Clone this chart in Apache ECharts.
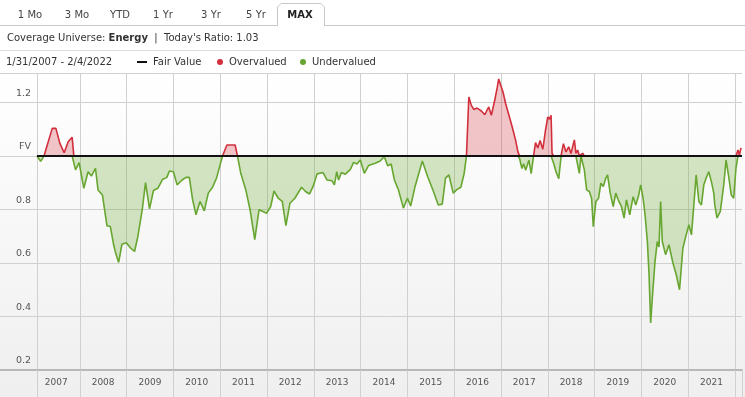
<!DOCTYPE html>
<html>
<head>
<meta charset="utf-8">
<style>
  html, body { margin: 0; padding: 0; background: #fff; }
  #chart { width: 745px; height: 397px; }
</style>
<script src="https://cdn.jsdelivr.net/npm/echarts@6/dist/echarts.min.js"></script>
</head>
<body>
<div id="chart"></div>
<script>
const tabs = ["1 Mo", "3 Mo", "YTD", "1 Yr", "3 Yr", "5 Yr", "MAX"];
const activeTab = "MAX";
const universe = "Energy";
const todaysRatio = "1.03";
const dateRange = "1/31/2007 - 2/4/2022";
const legendNames = ["Fair Value", "Overvalued", "Undervalued"];
const yearLabels = ["2007", "2008", "2009", "2010", "2011", "2012", "2013", "2014",
                    "2015", "2016", "2017", "2018", "2019", "2020", "2021"];
const fairValue = 1;
const xStart = 2007.085;   // 1/31/2007, as a year fraction
const xEnd = 2022.15;

// dates as year fractions, price/fair value ratio
const timeline = [
  2007.085, 2007.164, 2007.234, 2007.411, 2007.489, 2007.574, 2007.666, 2007.751, 2007.836, 2007.872,
  2007.909, 2007.985, 2008.085, 2008.177, 2008.249, 2008.334, 2008.389, 2008.483, 2008.581, 2008.653,
  2008.723, 2008.766, 2008.830, 2008.900, 2008.994, 2009.085, 2009.170, 2009.240, 2009.334, 2009.404,
  2009.489, 2009.574, 2009.666, 2009.772, 2009.857, 2009.915, 2010.000, 2010.079, 2010.185, 2010.270,
  2010.340, 2010.411, 2010.483, 2010.568, 2010.660, 2010.745, 2010.836, 2010.921, 2011.049, 2011.143,
  2011.319, 2011.368, 2011.440, 2011.547, 2011.638, 2011.738, 2011.830, 2011.994, 2012.079, 2012.149,
  2012.240, 2012.326, 2012.404, 2012.489, 2012.596, 2012.738, 2012.823, 2012.909, 2012.985, 2013.070,
  2013.198, 2013.283, 2013.389, 2013.440, 2013.490, 2013.530, 2013.589, 2013.674, 2013.781, 2013.851,
  2013.921, 2013.994, 2014.079, 2014.170, 2014.313, 2014.419, 2014.504, 2014.581, 2014.653, 2014.723,
  2014.809, 2014.915, 2015.000, 2015.070, 2015.164, 2015.319, 2015.432, 2015.553, 2015.660, 2015.745,
  2015.815, 2015.887, 2015.979, 2016.049, 2016.143, 2016.213, 2016.262, 2016.313, 2016.366, 2016.419,
  2016.489, 2016.581, 2016.653, 2016.738, 2016.794, 2016.866, 2016.921, 2016.951, 2016.994, 2017.043,
  2017.100, 2017.170, 2017.240, 2017.313, 2017.362, 2017.398, 2017.447, 2017.483, 2017.526, 2017.596,
  2017.645, 2017.696, 2017.738, 2017.787, 2017.836, 2017.894, 2017.951, 2018.000, 2018.036, 2018.070,
  2018.091, 2018.128, 2018.177, 2018.234, 2018.283, 2018.334, 2018.389, 2018.447, 2018.496, 2018.547,
  2018.568, 2018.600, 2018.638, 2018.674, 2018.709, 2018.745, 2018.781, 2018.830, 2018.887, 2018.936,
  2018.972, 2019.028, 2019.085, 2019.134, 2019.185, 2019.240, 2019.277, 2019.334, 2019.398, 2019.453,
  2019.504, 2019.574, 2019.630, 2019.681, 2019.751, 2019.823, 2019.879, 2019.936, 2019.985, 2020.036,
  2020.079, 2020.128, 2020.164, 2020.198, 2020.234, 2020.291, 2020.340, 2020.377, 2020.411, 2020.447,
  2020.517, 2020.589, 2020.674, 2020.745, 2020.815, 2020.887, 2020.957, 2021.015, 2021.070, 2021.121,
  2021.170, 2021.228, 2021.283, 2021.334, 2021.383, 2021.440, 2021.496, 2021.547, 2021.568, 2021.617,
  2021.687, 2021.760, 2021.809, 2021.866, 2021.921, 2021.972, 2022.021, 2022.064, 2022.092, 2022.130
];
const ratios = [
  1.000, 0.980, 1.000, 1.103, 1.103, 1.047, 1.012, 1.053, 1.070, 1.000,
  0.948, 0.975, 0.879, 0.941, 0.925, 0.954, 0.873, 0.854, 0.739, 0.736,
  0.668, 0.637, 0.602, 0.670, 0.676, 0.656, 0.643, 0.699, 0.799, 0.900,
  0.802, 0.871, 0.879, 0.913, 0.919, 0.944, 0.941, 0.892, 0.910, 0.920,
  0.920, 0.836, 0.780, 0.830, 0.795, 0.861, 0.883, 0.917, 1.000, 1.041,
  1.041, 1.000, 0.935, 0.873, 0.799, 0.687, 0.799, 0.786, 0.811, 0.869,
  0.842, 0.830, 0.740, 0.823, 0.842, 0.883, 0.867, 0.858, 0.886, 0.933,
  0.938, 0.910, 0.907, 0.892, 0.941, 0.910, 0.938, 0.932, 0.950, 0.976,
  0.970, 0.985, 0.935, 0.964, 0.973, 0.981, 0.998, 0.963, 0.970, 0.910,
  0.873, 0.805, 0.842, 0.813, 0.886, 0.981, 0.923, 0.869, 0.817, 0.820,
  0.917, 0.929, 0.861, 0.873, 0.883, 0.935, 1.000, 1.220, 1.189, 1.174,
  1.179, 1.168, 1.154, 1.183, 1.152, 1.208, 1.257, 1.288, 1.264, 1.239,
  1.195, 1.152, 1.108, 1.058, 1.015, 0.990, 0.953, 0.971, 0.947, 0.984,
  0.934, 1.000, 1.050, 1.030, 1.058, 1.025, 1.096, 1.146, 1.137, 1.152,
  1.009, 0.971, 0.940, 0.915, 0.996, 1.046, 1.015, 1.034, 1.009, 1.046,
  1.060, 1.010, 1.022, 0.935, 1.000, 1.010, 0.948, 0.873, 0.867, 0.842,
  0.736, 0.830, 0.842, 0.898, 0.886, 0.917, 0.929, 0.861, 0.811, 0.861,
  0.836, 0.811, 0.768, 0.836, 0.780, 0.848, 0.817, 0.848, 0.892, 0.842,
  0.780, 0.680, 0.556, 0.376, 0.470, 0.606, 0.680, 0.660, 0.830, 0.680,
  0.631, 0.668, 0.600, 0.556, 0.500, 0.656, 0.705, 0.743, 0.705, 0.817,
  0.929, 0.830, 0.817, 0.892, 0.917, 0.941, 0.904, 0.861, 0.817, 0.768,
  0.793, 0.892, 0.985, 0.923, 0.854, 0.842, 0.954, 1.022, 1.004, 1.030
];

const RED = "#d12f3b";
const GREEN = "#67a630";
const FONT = '"DejaVu Sans", Verdana, sans-serif';

window.addEventListener("DOMContentLoaded", init);

function init() {
  const overData = timeline.map((t, i) => [t, Math.max(ratios[i], fairValue)]);
  const underData = timeline.map((t, i) => [t, Math.min(ratios[i], fairValue)]);

  // header: tabs, coverage line, legend row
  const tabX = [30, 77, 120, 163, 211, 256, 300];
  const graphics = [
    { type: "rect", z: -10, silent: true,
      shape: { x: 0, y: 73, width: 745, height: 324 },
      style: { fill: new echarts.graphic.LinearGradient(0, 0, 0, 1, [
        { offset: 0, color: "#ffffff" }, { offset: 1, color: "#efefef" }]) } },
    { type: "line", shape: { x1: 0, y1: 25.5, x2: 277, y2: 25.5 }, style: { stroke: "#c8c8c8" } },
    { type: "line", shape: { x1: 325, y1: 25.5, x2: 745, y2: 25.5 }, style: { stroke: "#c8c8c8" } },
    { type: "polyline", shape: { points: [[277.5, 26], [277.5, 7], [281, 3.5], [321, 3.5], [324.5, 7], [324.5, 26]] },
      style: { stroke: "#c8c8c8", fill: "#fff" } },
    { type: "line", shape: { x1: 0, y1: 50.5, x2: 745, y2: 50.5 }, style: { stroke: "#dddddd" } },
    { type: "line", shape: { x1: 0, y1: 370, x2: 37, y2: 370 }, style: { stroke: "#b8b8b8", lineWidth: 2 }, z: 5 }
  ];
  tabs.forEach((t, i) => {
    graphics.push({ type: "text", x: tabX[i], y: 15,
      style: { text: t, font: (t === activeTab ? "bold " : "") + "10px " + FONT,
               fill: t === activeTab ? "#222" : "#444", align: "center", verticalAlign: "middle" } });
  });
  graphics.push({ type: "text", x: 7, y: 38,
    style: { text: "{n|Coverage Universe: }{b|" + universe + "}{n|  |  Today's Ratio: " + todaysRatio + "}",
             verticalAlign: "middle", font: "10px " + FONT,
             rich: { n: { fill: "#333", font: "10px " + FONT },
                     b: { fill: "#333", font: "bold 10px " + FONT } } } });
  graphics.push({ type: "text", x: 6, y: 62,
    style: { text: dateRange, font: "10px " + FONT, fill: "#333", verticalAlign: "middle" } });
  graphics.push({ type: "rect", shape: { x: 137, y: 61, width: 10, height: 2 }, style: { fill: "#111" } });
  graphics.push({ type: "circle", shape: { cx: 220, cy: 62, r: 3 }, style: { fill: RED } });
  graphics.push({ type: "circle", shape: { cx: 303, cy: 62, r: 3 }, style: { fill: GREEN } });
  [[153, 0], [229, 1], [312, 2]].forEach(([x, k]) => {
    graphics.push({ type: "text", x: x, y: 62,
      style: { text: legendNames[k], font: "10px " + FONT, fill: "#333", verticalAlign: "middle" } });
  });

  const option = {
    animation: false,
    textStyle: { fontFamily: FONT },
    graphic: graphics,
    grid: { left: 37, right: 0, top: 73, bottom: 27 },
    tooltip: { trigger: "axis" },
    xAxis: {
      type: "value",
      min: xStart,
      max: xEnd,
      splitNumber: 15,
      minInterval: 1,
      maxInterval: 1,
      axisLine: { show: true, lineStyle: { color: "#b8b8b8", width: 2 } },
      axisTick: { show: true, length: 27, lineStyle: { color: "#d0d0d0" } },
      splitLine: { show: true, showMaxLine: false, lineStyle: { color: "#d0d0d0" } },
      axisLabel: {
        color: "#555", fontSize: 9, margin: 8, padding: [0, 47, 0, 0],
        formatter: (v) => Number.isInteger(v) ? (yearLabels[v - 2008] || "") : ""
      }
    },
    yAxis: {
      type: "value",
      min: 0.2,
      max: 1.31,
      interval: 0.2,
      axisLine: { show: false },
      axisTick: { show: true, length: 37, lineStyle: { color: "#d0d0d0" } },
      splitLine: { show: true, lineStyle: { color: "#d0d0d0" } },
      axisLabel: {
        color: "#555", fontSize: 9.5, margin: 6, verticalAlign: "bottom", padding: [0, 0, 4, 0],
        formatter: (v) => {
          if (Math.abs(v - fairValue) < 1e-6) return "FV";
          if (v > 1.25) return "";
          return v.toFixed(1);
        }
      }
    },
    series: [
      {
        name: "Undervalued", type: "line", data: underData, showSymbol: false,
        lineStyle: { color: GREEN, width: 1.6 }, itemStyle: { color: GREEN },
        areaStyle: { origin: fairValue, color: "rgba(106,168,50,0.4)" }
      },
      {
        name: "Overvalued", type: "line", data: overData, showSymbol: false,
        lineStyle: { color: RED, width: 1.6 }, itemStyle: { color: RED },
        areaStyle: { origin: fairValue, color: "rgba(210,40,55,0.38)" }
      },
      {
        name: "Fair Value", type: "line", data: [[xStart, fairValue], [xEnd, fairValue]],
        showSymbol: false, z: 5,
        lineStyle: { color: "#111", width: 2 }, itemStyle: { color: "#111" }
      }
    ]
  };

  const chart = echarts.init(document.getElementById("chart"));
  chart.setOption(option);
  window.addEventListener("resize", () => chart.resize());
}
</script>
</body>
</html>
